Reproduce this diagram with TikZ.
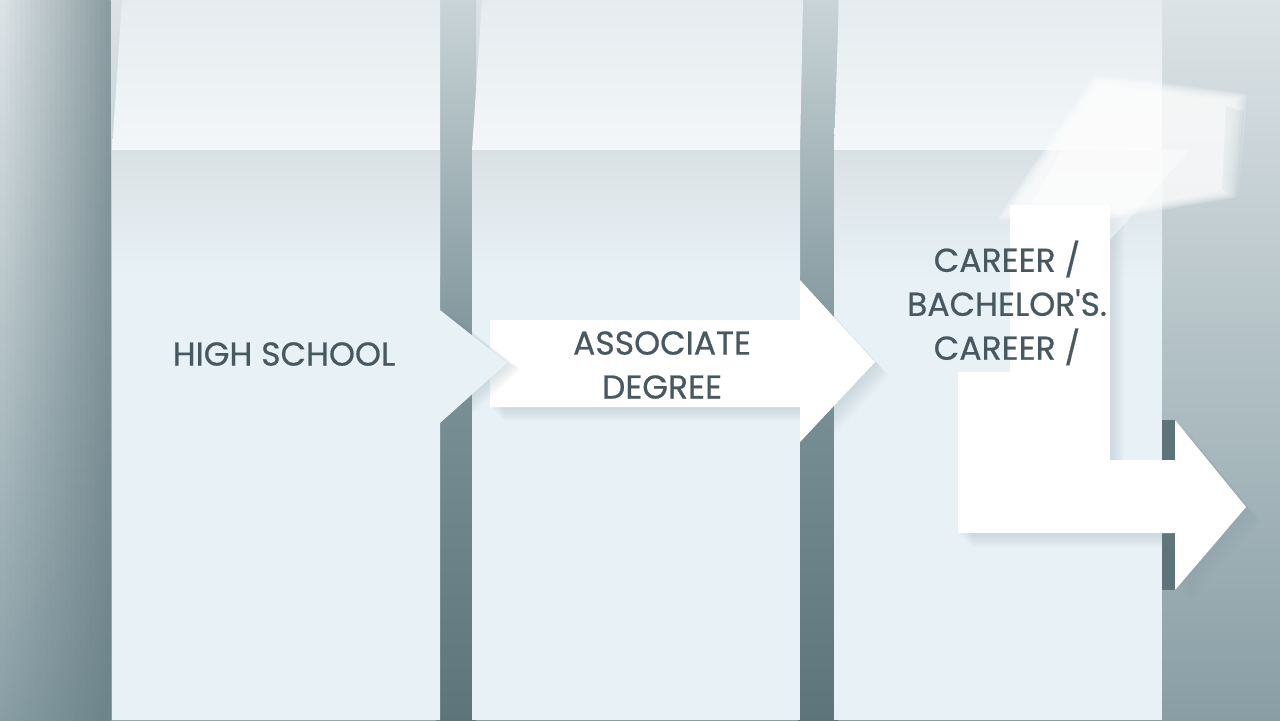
\documentclass[tikz,border=0pt]{standalone}
\usepackage{fontspec}
\setmainfont{Poppins}
\newfontfamily\stagefont{Poppins}[FakeBold=0.6]

\definecolor{facecol}{HTML}{E7F1F6}
\definecolor{topcol}{HTML}{EEF3F6}
\definecolor{bandcol}{HTML}{DAE1E4}
\definecolor{gaptop}{HTML}{C9D4D7}
\definecolor{gapmid}{HTML}{7C9299}
\definecolor{gapbot}{HTML}{5D747B}
\definecolor{bgtop}{HTML}{DCE3E6}
\definecolor{bgbot}{HTML}{889EA5}
\definecolor{textcol}{HTML}{475860}

\tikzset{
  paneltop/.style={top color=topcol!94!gapbot, bottom color=topcol!70!white},
  panelface/.style={fill=facecol},
  facedark/.style={top color=bandcol, bottom color=facecol},
  gapstrip/.style={top color=gaptop, bottom color=gapbot, middle color=gapmid},
  shadowstep/.style={fill=gapmid, opacity=0.035},
  streak/.style={fill=white, opacity=#1},
  stagetext/.style={text=textcol, align=center, font=\stagefont\fontsize{9.4}{12.5}\selectfont},
}

\begin{document}
\begin{tikzpicture}[x=0.01cm,y=-0.01cm]
\useasboundingbox (0,0) rectangle (1280,720);

% backdrop and gaps
\shade[top color=bgtop, bottom color=bgbot] (0,0) rectangle (1280,720);
\foreach \i [evaluate=\i as \k using int(\i*3)] in {0,...,21}
  \shade[top color=gapbot!\k!bgtop, bottom color=gapbot!\k!bgbot] (\i*5,0) rectangle (\i*5+5.5,720);
\shade[gapstrip] (436,0) rectangle (476,720);
\shade[gapstrip] (798,0) rectangle (838,720);
\fill[gapbot] (1162,420) rectangle (1176,590);

% third panel
\shade[paneltop] (839,0) -- (1162,0) -- (1162,150) -- (834,150) -- cycle;
\fill[panelface] (834,150) rectangle (1162,720);
\shade[facedark] (834,150) rectangle (1162,280);

\foreach \s in {2,4,...,14}
  \fill[shadowstep, shift={(\s,\s)}] (958,372) -- (1010,372) -- (1010,205) -- (1110,205) -- (1110,460)
    -- (1175,460) -- (1175,420) -- (1246,507) -- (1175,590) -- (1175,533) -- (958,533) -- cycle;
\fill[white] (958,372) -- (1010,372) -- (1010,205) -- (1110,205) -- (1110,460)
  -- (1175,460) -- (1175,420) -- (1246,507) -- (1175,590) -- (1175,533) -- (958,533) -- cycle;
\foreach \s [evaluate=\s as \f using 1.12-0.025*\s] in {0,...,6}
  \fill[streak=0.2, scale around={\f:(1125,150)}] (1010,212) -- (1098,82) -- (1234,100)
    -- (1226,192) -- (1110,212) -- cycle;
\fill[streak=0.45] (1010,240) -- (1065,145) -- (1190,150) -- (1110,240) -- cycle;
\fill[gapmid, opacity=0.08] (1226,106) -- (1244,112) -- (1238,198) -- (1222,190) -- cycle;

% second panel
\shade[paneltop] (482,0) -- (803,0) -- (800,150) -- (472,150) -- cycle;
\fill[panelface] (472,150) rectangle (800,720);
\shade[facedark] (472,150) rectangle (800,275);

\foreach \s in {2,4,...,14}
  \fill[shadowstep, shift={(\s,\s)}] (490,320) -- (800,320) -- (800,280) -- (875,362) -- (800,442)
    -- (800,407) -- (490,407) -- cycle;
\fill[white] (490,320) -- (800,320) -- (800,280) -- (875,362) -- (800,442)
  -- (800,407) -- (490,407) -- cycle;

% first panel
\shade[paneltop] (122,0) -- (440,0) -- (440,150) -- (112,150) -- cycle;
\foreach \s in {2,4,...,14}
  \fill[shadowstep, shift={(\s,\s/2)}] (440,310) -- (507,363) -- (440,423) -- cycle;
\fill[panelface] (112,150) -- (440,150) -- (440,310) -- (507,363) -- (440,423)
  -- (440,720) -- (112,720) -- cycle;
\shade[facedark] (112,150) rectangle (440,275);

\node[stagetext] (highschool) at (284,354) {HIGH SCHOOL};
\node[stagetext] (associate) at (662,365) {ASSOCIATE\\DEGREE};
\node[stagetext] (career) at (1007,303) {CAREER /\\BACHELOR'S.\\CAREER /};
\end{tikzpicture}
\end{document}
